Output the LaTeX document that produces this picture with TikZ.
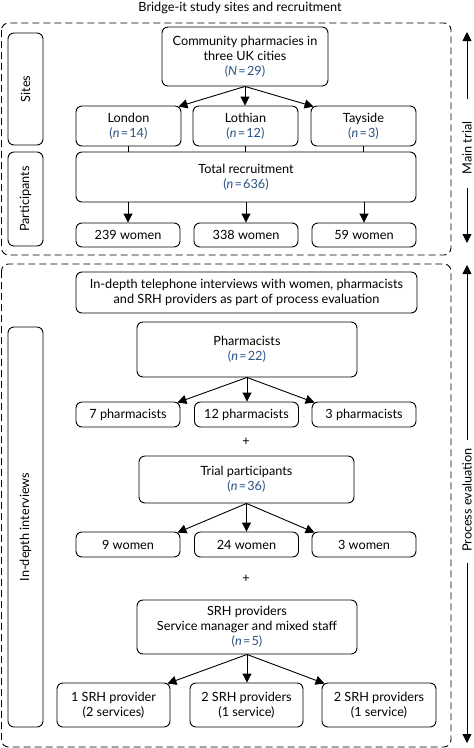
\documentclass[tikz,border=0pt]{standalone}
\usepackage{fontspec}
\setmainfont{Lato}
\usetikzlibrary{arrows.meta}
\definecolor{nblue}{HTML}{2B5283}
\newcommand{\nnum}[2]{\textcolor{nblue}{(\textit{#1}\kern1.2pt=\kern1.2pt#2)}}
\begin{document}
\begin{tikzpicture}[x=1pt,y=-1pt,
  every node/.style={font=\fontsize{12.7}{15}\selectfont, text=black},
  box/.style={draw, rounded corners=6pt, line width=0.9pt, align=center, inner sep=0pt},
  dbox/.style={draw, dash pattern=on 7pt off 4pt, rounded corners=7pt, line width=0.9pt},
  arr/.style={line width=0.9pt, -{Triangle[length=9pt,width=9pt]}},
  lnk/.style={line width=0.9pt}]
\useasboundingbox (0,0) rectangle (474,748);
% title
\node (title) at (240,8) {Bridge-it study sites and recruitment};
% dashed frames
\draw[dbox] (1.5,23) rectangle (451,255);
\draw[dbox] (1.5,264) rectangle (451,747);
% left labels
\node[box, minimum width=35pt, minimum height=112pt] (sites) at (25.5,89) {};
\node[rotate=90] (sitesl) at (25.5,89) {Sites};
\node[box, minimum width=35pt, minimum height=94pt] (part) at (25.5,199) {};
\node[rotate=90] (partl) at (25.5,199) {Participants};
\node[box, minimum width=35pt, minimum height=400pt] (intv) at (25.5,527) {};
\node[rotate=90] (intvl) at (25.5,527) {In-depth interviews};
% main trial
\node[box, minimum width=166pt, minimum height=59pt] (top) at (245,56.5) {Community pharmacies in\\three UK cities\\\nnum{N}{29}};
\node[box, minimum width=105pt, minimum height=40pt] (lon) at (128.5,126) {London\\\nnum{n}{14}};
\node[box, minimum width=105pt, minimum height=40pt] (lot) at (245.5,126) {Lothian\\\nnum{n}{12}};
\node[box, minimum width=105pt, minimum height=40pt] (tay) at (363.5,126) {Tayside\\\nnum{n}{3}};
\node[box, minimum width=340pt, minimum height=50pt] (tot) at (246,177) {Total recruitment\\\nnum{n}{636}};
\node[box, minimum width=104pt, minimum height=24pt] (w1) at (128,235) {239 women};
\node[box, minimum width=104pt, minimum height=24pt] (w2) at (246,235) {338 women};
\node[box, minimum width=104pt, minimum height=24pt] (w3) at (364,235) {59 women};
\draw[arr] (top.south) -- ([xshift=-3pt,yshift=-1pt]lon.north east);
\draw[arr] (top.south) -- (top.south |- lot.north);
\draw[arr] (top.south) -- ([xshift=3pt,yshift=-1pt]tay.north west);
\draw[lnk] (lon.south) -- (lon.south |- tot.north);
\draw[lnk] (lot.south) -- (lot.south |- tot.north);
\draw[lnk] (tay.south) -- (tay.south |- tot.north);
\draw[arr] (tot.south -| w1.north) -- (w1.north);
\draw[arr] (tot.south -| w2.north) -- (w2.north);
\draw[arr] (tot.south -| w3.north) -- (w3.north);
% process evaluation
\node[box, minimum width=341pt, minimum height=41pt] (tel) at (246.5,292.5) {In-depth telephone interviews with women, pharmacists\\and SRH providers as part of process evaluation};
\node[box, minimum width=220pt, minimum height=55pt] (ph) at (247,349.5) {Pharmacists\\\nnum{n}{22}};
\node[box, minimum width=104pt, minimum height=25pt] (p1) at (128,414.5) {7 pharmacists};
\node[box, minimum width=104pt, minimum height=25pt] (p2) at (246.5,414.5) {12 pharmacists};
\node[box, minimum width=104pt, minimum height=25pt] (p3) at (364,414.5) {3 pharmacists};
\draw[arr] (ph.south) -- ([xshift=-3pt,yshift=-1pt]p1.north east);
\draw[arr] (ph.south) -- (ph.south |- p2.north);
\draw[arr] (ph.south) -- ([xshift=3pt,yshift=-1pt]p3.north west);
\node (plus1) at (246,442) {+};
\node[box, minimum width=215pt, minimum height=47pt] (tp) at (246.5,479.5) {Trial participants\\\nnum{n}{36}};
\node[box, minimum width=104pt, minimum height=25pt] (t1) at (128,544.5) {9 women};
\node[box, minimum width=104pt, minimum height=25pt] (t2) at (246.5,544.5) {24 women};
\node[box, minimum width=104pt, minimum height=25pt] (t3) at (364,544.5) {3 women};
\draw[arr] (tp.south) -- ([xshift=-3pt,yshift=-1pt]t1.north east);
\draw[arr] (tp.south) -- (tp.south |- t2.north);
\draw[arr] (tp.south) -- ([xshift=3pt,yshift=-1pt]t3.north west);
\node (plus2) at (246,579) {+};
\node[box, minimum width=220pt, minimum height=54pt] (srh) at (247,627) {SRH providers\\Service manager and mixed staff\\\nnum{n}{5}};
\node[box, minimum width=113pt, minimum height=44pt] (s1) at (113.5,705) {1 SRH provider\\(2 services)};
\node[box, minimum width=113pt, minimum height=44pt] (s2) at (246.5,705) {2 SRH providers\\(1 service)};
\node[box, minimum width=114pt, minimum height=44pt] (s3) at (379,705) {2 SRH providers\\(1 service)};
\draw[arr] (srh.south) -- ([xshift=-3pt,yshift=-1pt]s1.north east);
\draw[arr] (srh.south) -- (srh.south |- s2.north);
\draw[arr] (srh.south) -- ([xshift=3pt,yshift=-1pt]s3.north west);
% side arrows
\node[rotate=90] (mt) at (467,148) {Main trial};
\coordinate (mtA) at (467,32);
\coordinate (mtB) at (467,243);
\draw[arr] (mt.east |- 0,99) -- (mtA);
\draw[arr] (mt.east |- 0,188) -- (mtB);
\node[rotate=90] (pe) at (467,500) {Process evaluation};
\coordinate (peA) at (467,265);
\coordinate (peB) at (467,743);
\draw[arr] (pe.east |- 0,440) -- (peA);
\draw[arr] (pe.east |- 0,563) -- (peB);
\end{tikzpicture}
\end{document}
